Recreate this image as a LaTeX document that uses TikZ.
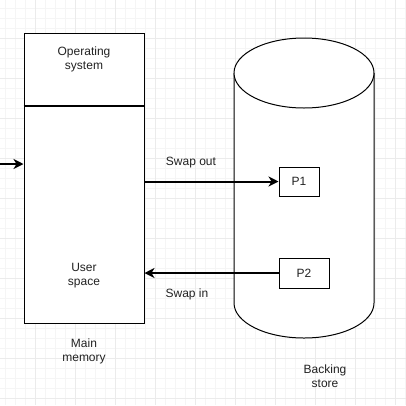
\documentclass[tikz,border=0pt]{standalone}
\usepackage{fontspec}
\setmainfont{Liberation Sans}
\usetikzlibrary{arrows.meta}
\definecolor{gridmajor}{HTML}{EBEBEB}
\definecolor{gridminor}{HTML}{F5F5F5}
\definecolor{txt}{HTML}{222222}
\begin{document}
\begin{tikzpicture}[x=1pt,y=-1pt,
  lbl/.style={align=center,inner sep=0pt,font=\fontsize{12}{14}\selectfont,text=txt},
  box/.style={draw=black,line width=1pt,fill=white,inner sep=0pt,font=\fontsize{12}{14}\selectfont,text=txt},
  arr/.style={line width=2pt,-{Stealth[length=10pt,width=10pt,inset=3pt]}},
  minorline/.style={draw=gridminor,line width=0.7pt},
  majorline/.style={draw=gridmajor,line width=0.7pt}]
\useasboundingbox (0,0) rectangle (406,405);
\fill[white] (0,0) rectangle (406,405);
% grid
\foreach \x in {5,15,...,405} \draw[minorline] (\x,0) -- (\x,405);
\foreach \y in {8,18,...,398} \draw[minorline] (0,\y) -- (406,\y);
\foreach \x in {35,75,...,395} \draw[majorline] (\x,0) -- (\x,405);
\foreach \y in {38,78,...,398} \draw[majorline] (0,\y) -- (406,\y);
% main memory
\node[box,minimum width=120pt,minimum height=290pt] (mem) at (84,178) {};
\node[box,minimum width=120pt,minimum height=72pt] (os) at (84,69) {};
\draw[line width=2pt] (os.south west) -- (os.south east);
\node[lbl] (ostext) at (84,59) {Operating\\system};
\node[lbl] (user) at (84,276) {User\\space};
\node[lbl] (mainmem) at (84,351) {Main\\memory};
% backing store cylinder
\filldraw[fill=white,draw=black,line width=1pt]
  (234,73) -- (234,303)
  .. controls (234,322.33) and (265.34,338) .. (304,338)
  .. controls (342.66,338) and (374,322.33) .. (374,303)
  -- (374,73);
\filldraw[fill=white,draw=black,line width=1pt] (304,73) ellipse [x radius=70, y radius=35];
\node[lbl] (backing) at (325,376) {Backing\\store};
% processes
\node[box,minimum width=40pt,minimum height=29pt] (p1) at (299,181.5) {P1};
\node[box,minimum width=50pt,minimum height=30pt] (p2) at (304,273) {P2};
% arrows
\draw[arr] (p1.west -| mem.east) -- (p1.west);
\draw[arr] (p2.west) -- (p2.west -| mem.east);
\coordinate (inflow) at (0,164);
\draw[arr] (inflow) -- (inflow -| mem.west);
\node[lbl] (swapout) at (191,163) {Swap out};
\node[lbl] (swapin) at (187,294) {Swap in};
\end{tikzpicture}
\end{document}
